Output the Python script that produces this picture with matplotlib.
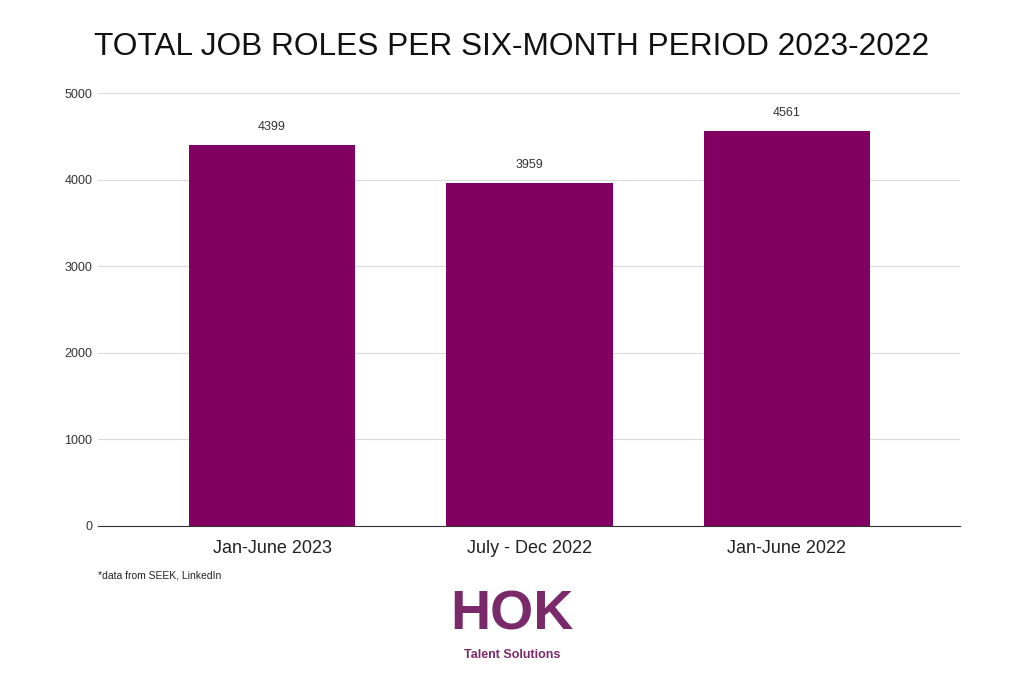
import matplotlib
matplotlib.use("Agg")
import matplotlib.pyplot as plt

categories = ["Jan-June 2023", "July - Dec 2022", "Jan-June 2022"]
values = [4399, 3959, 4561]
yticks = [0, 1000, 2000, 3000, 4000, 5000]

purple = "#820062"
fig = plt.figure(figsize=(10.24, 6.83), dpi=100)
ax = fig.add_axes([0.0957, 0.2299, 0.8418, 0.6339])
x = range(len(categories))
ax.bar(x, values, width=0.645, color=purple, zorder=3)
for i, v in zip(x, values):
    ax.text(i, v + 140, str(v), ha="center", va="bottom", fontsize=9, color="#333333", family="Liberation Sans")
ax.set_xlim(-0.676, 2.672)
ax.set_ylim(0, 5000)
ax.set_yticks(yticks)
ax.set_yticklabels([str(t) for t in yticks], fontsize=9, color="#333333", family="Liberation Sans")
ax.set_xticks(list(x))
ax.set_xticklabels(categories, fontsize=13, color="#222222", family="Liberation Sans")
ax.grid(axis="y", color="#d9d9d9", lw=0.8, zorder=0)
for s in ["top", "right", "left"]:
    ax.spines[s].set_visible(False)
ax.spines["bottom"].set_color("#333333")
ax.tick_params(length=0, axis="both")
ax.tick_params(axis="y", pad=4)
ax.tick_params(axis="x", pad=10)
fig.text(0.5, 1 - 47/683, "TOTAL JOB ROLES PER SIX-MONTH PERIOD 2023-2022", ha="center", va="center",
         fontsize=22.8, family="Liberation Sans", color="#111111")
fig.text(0.096, 1 - 575/683, "*data from SEEK, LinkedIn", fontsize=7.5, family="Liberation Sans", color="#222222", va="center")
fig.text(0.5, 1 - 615/683, "HOK", ha="center", va="center", fontsize=40, fontweight="bold",
         family="Liberation Sans", color="#7a2a6a")
fig.text(0.5, 1 - 655/683, "Talent Solutions", ha="center", va="center", fontsize=9, fontweight="bold",
         family="Liberation Sans", color="#7a2a6a")
fig.savefig("out.png", dpi=100)
